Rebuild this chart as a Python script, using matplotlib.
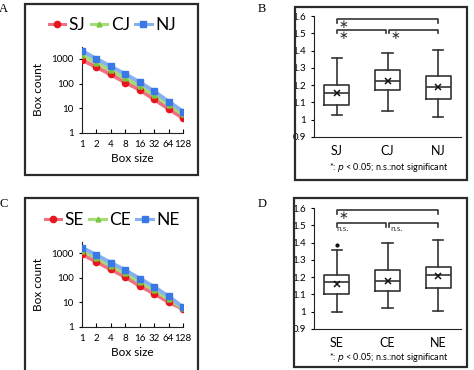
import matplotlib.pyplot as plt
import numpy as np
from matplotlib.patches import Rectangle
from matplotlib.lines import Line2D

plt.rcParams['font.family'] = ['Lato', 'DejaVu Sans']

# box-counting data (panels A and C)
box_sizes = ['1', '2', '4', '8', '16', '32', '64', '128']
sj = [900, 460, 232, 110, 56, 23, 9.5, 4.0]
cj = [1400, 700, 340, 165, 80, 34, 14, 5.7]
nj = [2100, 1000, 490, 240, 114, 48, 18.7, 7.4]
se = [910, 455, 220, 110, 47, 23, 10.4, 5.5]
ce = [1300, 650, 310, 155, 70, 32, 14, 5.8]
ne = [1710, 854, 414, 206, 94, 43, 17.7, 6.4]

# fractal dimension box plots (panels B and D)
groups_b = ['SJ', 'CJ', 'NJ']
b_whislo = [1.025, 1.05, 1.015]
b_q1 = [1.085, 1.17, 1.12]
b_med = [1.155, 1.225, 1.19]
b_q3 = [1.20, 1.29, 1.255]
b_whishi = [1.355, 1.385, 1.405]
b_mean = [1.155, 1.225, 1.19]

groups_d = ['SE', 'CE', 'NE']
d_whislo = [1.0, 1.02, 1.005]
d_q1 = [1.105, 1.12, 1.135]
d_med = [1.17, 1.175, 1.21]
d_q3 = [1.215, 1.24, 1.26]
d_whishi = [1.355, 1.395, 1.415]
d_mean = [1.163, 1.18, 1.205]
d_fliers = [[1.385], [], []]

W, H = 474, 370
fig = plt.figure(figsize=(W / 100, H / 100), dpi=100)

def fx(px):
    return px / W

def fy(py):
    return 1 - py / H

def frame(x0, y0, x1, y1):
    fig.add_artist(Rectangle((fx(x0), fy(y1)), fx(x1) - fx(x0), fy(y0) - fy(y1),
                             transform=fig.transFigure, fill=False, lw=1.6, ec='#2a2a2a'))

frame(25, 4, 198, 175)
frame(295, 7, 467, 180)
frame(25, 198, 198, 380)
frame(294, 198, 467, 367)

for lab, x, y in [('A', 3, 9), ('B', 262, 9), ('C', 4, 204), ('D', 262, 204)]:
    fig.text(fx(x), fy(y), lab, family='Liberation Serif', fontsize=9, ha='center', va='center')

red_l, red_m = '#f07080', '#e8141e'
grn_l, grn_m = '#a6dc78', '#78c83c'
blu_l, blu_m = '#86b0f0', '#3a78e6'

def line_panel(rect, series, names):
    ax = fig.add_axes(rect)
    x = np.arange(len(box_sizes))
    styles = [(red_l, red_m, 'o', 4.5), (grn_l, grn_m, '^', 3.5), (blu_l, blu_m, 's', 4.5)]
    for vals, (lc, mc, mk, ms) in zip(series, styles):
        ax.plot(x, vals, color=lc, lw=2.8, zorder=2)
        ax.plot(x, vals, ls='none', marker=mk, ms=ms, color=mc, zorder=3)
    ax.set_yscale('log')
    ax.set_ylim(1, 3000)
    ax.set_xlim(0, 7)
    ax.set_yticks([1, 10, 100, 1000])
    ax.set_yticklabels(['1', '10', '100', '1000'])
    ax.minorticks_off()
    ax.set_xticks(x)
    ax.set_xticklabels(box_sizes)
    ax.tick_params(axis='x', direction='in', length=3, labelsize=7, pad=5)
    ax.tick_params(axis='y', direction='out', length=2.5, labelsize=7)
    for s in ['top', 'right']:
        ax.spines[s].set_visible(False)
    for s in ['left', 'bottom']:
        ax.spines[s].set_color('#222')
    ax.set_xlabel('Box size', fontsize=8.5, labelpad=3)
    ax.set_ylabel('Box count', fontsize=8.5, labelpad=5)
    handles = [Line2D([], [], color=lc, lw=2.2, marker=mk, ms=ms, mfc=mc, mec=mc)
               for lc, mc, mk, ms in styles]
    ax.legend(handles, names, loc='lower center', bbox_to_anchor=(0.3, 1.08), ncol=3,
              frameon=False, fontsize=12.5, handlelength=0.95, handletextpad=0.2,
              columnspacing=0.3, borderaxespad=0)
    return ax

line_panel([fx(82), fy(133), fx(183) - fx(82), fy(47) - fy(133)], [sj, cj, nj], ['SJ', 'CJ', 'NJ'])
line_panel([fx(82), fy(327), fx(183) - fx(82), fy(241.6) - fy(327)], [se, ce, ne], ['SE', 'CE', 'NE'])

def box_panel(rect, names, lo, q1, med, q3, hi, mean, fliers):
    ax = fig.add_axes(rect)
    stats = []
    for i in range(len(names)):
        stats.append(dict(whislo=lo[i], q1=q1[i], med=med[i], q3=q3[i], whishi=hi[i],
                          mean=mean[i], fliers=fliers[i]))
    lp = dict(color='#333', lw=1.2)
    ax.bxp(stats, positions=[1, 2, 3], widths=0.5, showmeans=True,
           boxprops=lp, whiskerprops=lp, capprops=lp, medianprops=lp,
           meanprops=dict(marker='x', mec='#111', ms=4, mew=1.1),
           flierprops=dict(marker='o', mfc='#111', mec='#111', ms=2),
           capwidths=0.2)
    ax.set_xlim(0.55, 3.45)
    ax.set_ylim(0.9, 1.6)
    ax.set_yticks([0.9, 1.0, 1.1, 1.2, 1.3, 1.4, 1.5, 1.6])
    ax.set_yticklabels(['0.9', '1', '1.1', '1.2', '1.3', '1.4', '1.5', '1.6'])
    ax.set_xticks([1, 2, 3])
    ax.set_xticklabels(names)
    ax.tick_params(axis='x', length=0, labelsize=9, pad=6)
    ax.tick_params(axis='y', direction='out', length=2.5, labelsize=7)
    for s in ['top', 'right']:
        ax.spines[s].set_visible(False)
    for s in ['left', 'bottom']:
        ax.spines[s].set_color('#222')
    return ax

def bracket(ax, x0, x1, y, drop):
    ax.plot([x0, x0, x1, x1], [y - drop, y, y, y - drop], color='#333', lw=1.2, clip_on=False)

axb = box_panel([fx(314), fy(137), fx(461) - fx(314), fy(16) - fy(137)], groups_b,
                b_whislo, b_q1, b_med, b_q3, b_whishi, b_mean, [[], [], []])
bracket(axb, 1, 3, 1.583, 0.023)
bracket(axb, 1, 1.98, 1.52, 0.02)
bracket(axb, 2.02, 3, 1.52, 0.02)
for x, y in [(1.12, 1.552), (1.12, 1.488), (2.15, 1.488)]:
    axb.text(x, y, '$\\ast$', fontsize=8.5, ha='center', va='center', color='#333')
fig.text(fx(389), fy(168), '*: $\\it{p}$ < 0.05; n.s.:not significant', fontsize=6.5,
         ha='center', va='center')

axd = box_panel([fx(314), fy(329), fx(461) - fx(314), fy(208) - fy(329)], groups_d,
                d_whislo, d_q1, d_med, d_q3, d_whishi, d_mean, d_fliers)
bracket(axd, 1, 3, 1.588, 0.02)
bracket(axd, 1, 1.98, 1.515, 0.025)
bracket(axd, 2.02, 3, 1.515, 0.025)
axd.text(1.12, 1.56, '$\\ast$', fontsize=8.5, ha='center', va='center', color='#333')
axd.text(0.99, 1.483, 'n.s.', fontsize=6, ha='left', va='center', color='#333')
axd.text(2.05, 1.483, 'n.s.', fontsize=6, ha='left', va='center', color='#333')
fig.text(fx(389), fy(358), '*: $\\it{p}$ < 0.05; n.s.:not significant', fontsize=6.5,
         ha='center', va='center')

fig.savefig('out.png', dpi=100)
